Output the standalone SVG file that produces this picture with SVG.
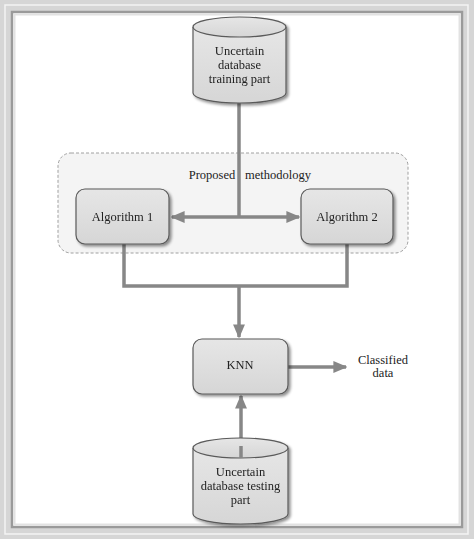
<svg xmlns="http://www.w3.org/2000/svg" width="474" height="539" viewBox="0 0 474 539">
<style>
.t{font-family:"Liberation Serif","Times New Roman",serif;font-size:12.5px;fill:#222;text-anchor:middle}
.node{fill:url(#g);stroke:#5a5a5a;stroke-width:1.2}
.conn{fill:none;stroke:#878787;stroke-width:3.5}
</style>
<defs>
<linearGradient id="g" x1="0" y1="0" x2="0" y2="1">
<stop offset="0" stop-color="#e6e6e6"/>
<stop offset="1" stop-color="#d6d6d6"/>
</linearGradient>
<filter id="sh" x="-10%" y="-10%" width="130%" height="130%">
<feGaussianBlur in="SourceAlpha" stdDeviation="1.5"/>
<feOffset dx="2" dy="2"/>
<feComponentTransfer><feFuncA type="linear" slope="0.45"/></feComponentTransfer>
<feMerge><feMergeNode/><feMergeNode in="SourceGraphic"/></feMerge>
</filter>
<marker id="ah" markerWidth="4" markerHeight="4" refX="3.6" refY="2" orient="auto-start-reverse" markerUnits="strokeWidth">
<path d="M0,0.3 L4,2 L0,3.7 Z" fill="#878787"/>
</marker>
</defs>
<rect x="0" y="0" width="474" height="539" fill="#d6d6d6"/>
<rect x="5" y="5" width="463" height="529" fill="none" stroke="#f4f4f4" stroke-width="1.5"/>
<rect x="12" y="12" width="450" height="515" fill="#ffffff" stroke="#9a9a9a" stroke-width="2.5"/>
<rect x="14.5" y="14.5" width="445" height="510" fill="none" stroke="#e2e2e2" stroke-width="2"/>

<g id="group-proposed">
<rect x="58" y="153" width="350" height="100" rx="13" fill="#f4f4f4" stroke="#a0a0a0" stroke-width="1" stroke-dasharray="3,2"/>
<text class="t" x="212" y="179">Proposed</text>
<text class="t" x="278" y="179">methodology</text>
</g>

<g id="connectors">
<path class="conn" d="M239,103 V217"/>
<path class="conn" d="M172,217 H299" marker-start="url(#ah)" marker-end="url(#ah)"/>
<path class="conn" d="M124,244 V286 H347 V244"/>
<path class="conn" d="M239,286 V337" marker-end="url(#ah)"/>
<path class="conn" d="M288,367 H346" marker-end="url(#ah)"/>
<path class="conn" d="M241,446 V396" marker-end="url(#ah)"/>
</g>

<g id="db-training" filter="url(#sh)">
<path class="node" d="M193,27 V93 A46.5,10 0 0 0 286,93 V27"/>
<ellipse class="node" cx="239.5" cy="27" rx="46.5" ry="10" fill="#e8e8e8"/>
<text class="t" x="239.5" y="55">Uncertain</text>
<text class="t" x="239.5" y="68.5">database</text>
<text class="t" x="239.5" y="83">training part</text>
</g>

<g id="algorithm1" filter="url(#sh)">
<rect class="node" x="76" y="189" width="93" height="55" rx="9"/>
<text class="t" x="122.5" y="221">Algorithm 1</text>
</g>

<g id="algorithm2" filter="url(#sh)">
<rect class="node" x="301" y="189" width="92" height="55" rx="9"/>
<text class="t" x="347" y="221">Algorithm 2</text>
</g>

<g id="knn" filter="url(#sh)">
<rect class="node" x="193" y="339" width="95" height="55" rx="9"/>
<text class="t" x="240" y="369">KNN</text>
</g>

<g id="classified">
<text class="t" x="383" y="364">Classified</text>
<text class="t" x="383" y="377">data</text>
</g>

<g id="db-testing" filter="url(#sh)">
<path class="node" d="M193,448 V514 A47.5,10 0 0 0 288,514 V448"/>
<ellipse class="node" cx="240.5" cy="448" rx="47.5" ry="10" fill="#e8e8e8"/>
<path class="conn" d="M241,446 V458" filter="none"/>
<text class="t" x="240.5" y="476">Uncertain</text>
<text class="t" x="240.5" y="490">database testing</text>
<text class="t" x="240.5" y="504">part</text>
</g>
</svg>
